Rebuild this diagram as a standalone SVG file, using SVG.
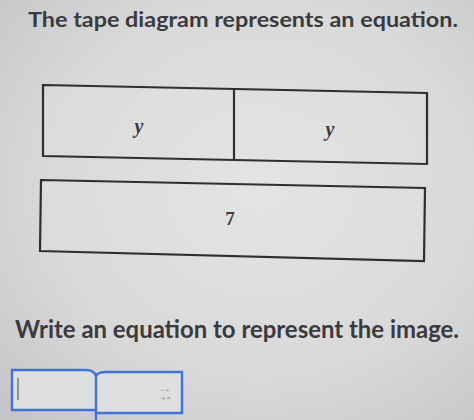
<svg xmlns="http://www.w3.org/2000/svg" width="474" height="420" viewBox="0 0 474 420">
<defs>
<radialGradient id="bg" cx="0.55" cy="0.45" r="0.75">
<stop offset="0" stop-color="#e4e4e4"/>
<stop offset="0.6" stop-color="#d9d9da"/>
<stop offset="1" stop-color="#c6c6c8"/>
</radialGradient>
<style>
.t{font-family:Lato,"Liberation Sans",sans-serif;font-weight:bold;fill:#3a3a3f}
.box{fill:#e2e2e2;fill-opacity:0.35;stroke:#2e2e33;stroke-width:2.2}
.v{font-family:"Liberation Serif",serif;font-style:italic;font-weight:bold;fill:#3a3a40;font-size:20px;text-anchor:middle}
.n{font-family:"Liberation Serif",serif;font-weight:bold;fill:#3a3a40;font-size:19px;text-anchor:middle}
.inp{fill:#dedfe0;stroke:#3f74d6;stroke-width:2.4}
</style>
</defs>
<rect width="474" height="420" fill="url(#bg)"/>
<text class="t" x="28" y="27" font-size="21" textLength="430" lengthAdjust="spacingAndGlyphs">The tape diagram represents an equation.</text>
<g id="tape-top">
<polygon class="box" points="43,85 427,93 427,164 43,156"/>
<line x1="234" y1="89" x2="234" y2="160" stroke="#2e2e33" stroke-width="2.2"/>
<text class="v" x="139" y="133">y</text>
<text class="v" x="330" y="136">y</text>
</g>
<g id="tape-bottom">
<polygon class="box" points="41,180 425,188 424,261 40,251"/>
<text class="n" x="230" y="225">7</text>
</g>
<text class="t" x="15" y="338" font-size="24" textLength="444" lengthAdjust="spacingAndGlyphs">Write an equation to represent the image.</text>
<g id="answer">
<path class="inp" d="M12,370 H86 Q94,370 96,376 Q98,372 106,372 H182 V413 H96 V410 H12 Z"/>
<line x1="96" y1="376" x2="96" y2="420" stroke="#3f74d6" stroke-width="2.4"/>
<line x1="18" y1="378" x2="18" y2="400" stroke="#7a7a7a" stroke-width="1.5"/>
<text x="165" y="392" font-family="'DejaVu Sans',sans-serif" font-size="6" fill="#8a8a8a" text-anchor="middle">−÷</text>
<text x="165" y="400" font-family="'DejaVu Sans',sans-serif" font-size="6" fill="#8a8a8a" text-anchor="middle">·+×</text>
</g>
</svg>
